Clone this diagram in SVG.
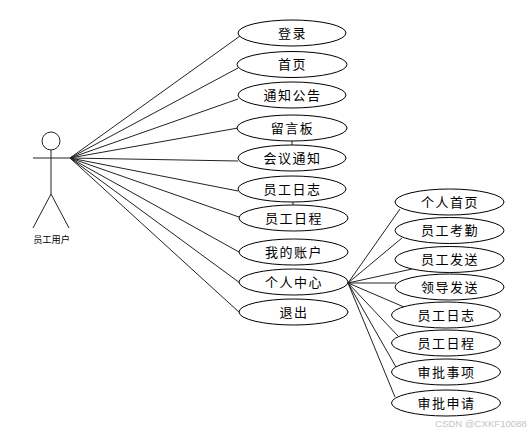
<svg xmlns="http://www.w3.org/2000/svg" width="527" height="435" viewBox="0 0 527 435">
<style>
.n ellipse{fill:#fff;stroke:#000;stroke-width:1}
.n text{font-family:"Noto Sans CJK SC","Liberation Sans",sans-serif;font-size:13px;letter-spacing:1.5px;text-anchor:middle;fill:#000}
#connectors line,#actor line{stroke:#222;stroke-width:1;fill:none}
#actor circle{fill:#fff;stroke:#222;stroke-width:1}
#actor text{font-family:"Noto Sans CJK SC","Liberation Sans",sans-serif;font-size:9.2px;text-anchor:middle;fill:#000}
.wm{font-family:"Liberation Sans",Arial,sans-serif;font-size:9.6px;fill:#c4c4c4}
</style>
<rect width="527" height="435" fill="#fff"/>
<g id="connectors">
<line x1="70" y1="158" x2="240" y2="36"/>
<line x1="70" y1="158" x2="238" y2="68"/>
<line x1="70" y1="158" x2="238" y2="99"/>
<line x1="70" y1="158" x2="238" y2="128"/>
<line x1="70" y1="158" x2="238" y2="161"/>
<line x1="70" y1="158" x2="238" y2="191"/>
<line x1="70" y1="158" x2="239" y2="217"/>
<line x1="70" y1="158" x2="239" y2="252"/>
<line x1="70" y1="158" x2="240" y2="283"/>
<line x1="70" y1="158" x2="240" y2="313"/>
<line x1="292" y1="141" x2="292" y2="145"/>
<line x1="293" y1="202" x2="293" y2="205"/>
<line x1="348" y1="283" x2="400" y2="209"/>
<line x1="348" y1="283" x2="402" y2="238"/>
<line x1="348" y1="283" x2="412" y2="269"/>
<line x1="348" y1="283" x2="396" y2="283"/>
<line x1="348" y1="283" x2="404" y2="307"/>
<line x1="348" y1="283" x2="398" y2="336"/>
<line x1="348" y1="283" x2="396" y2="367"/>
<line x1="348" y1="283" x2="395" y2="397"/>
</g>
<g id="actor">
<circle cx="51" cy="141" r="9"/>
<line x1="51" y1="150" x2="51" y2="194"/>
<line x1="33" y1="158" x2="70" y2="158"/>
<line x1="51" y1="194" x2="33" y2="228"/>
<line x1="51" y1="194" x2="69" y2="228"/>
<text x="51.500" y="243">员工用户</text>
</g>
<g id="n1" class="n"><ellipse cx="292" cy="33" rx="54" ry="13"/><text x="292.500" y="37.500">登录</text></g>
<g id="n2" class="n"><ellipse cx="292" cy="64.500" rx="55" ry="13"/><text x="292.500" y="69">首页</text></g>
<g id="n3" class="n"><ellipse cx="292" cy="95" rx="54" ry="13"/><text x="292.500" y="99.500">通知公告</text></g>
<g id="n4" class="n"><ellipse cx="292" cy="128" rx="55" ry="13"/><text x="292.500" y="132.500">留言板</text></g>
<g id="n5" class="n"><ellipse cx="292" cy="158" rx="54" ry="13"/><text x="292.500" y="162.500">会议通知</text></g>
<g id="n6" class="n"><ellipse cx="292" cy="189" rx="54" ry="13"/><text x="292.500" y="193.500">员工日志</text></g>
<g id="n7" class="n"><ellipse cx="293.500" cy="218" rx="54.500" ry="13"/><text x="294" y="222.500">员工日程</text></g>
<g id="n8" class="n"><ellipse cx="293.500" cy="252" rx="54.500" ry="13"/><text x="294" y="256.500">我的账户</text></g>
<g id="n9" class="n"><ellipse cx="293.500" cy="282" rx="54.500" ry="13"/><text x="294" y="286.500">个人中心</text></g>
<g id="n10" class="n"><ellipse cx="293.500" cy="312" rx="54.500" ry="13"/><text x="294" y="316.500">退出</text></g>
<g id="n11" class="n"><ellipse cx="449.500" cy="202" rx="54.500" ry="13"/><text x="450" y="206.500">个人首页</text></g>
<g id="n12" class="n"><ellipse cx="449.500" cy="230.500" rx="54.500" ry="13"/><text x="450" y="235">员工考勤</text></g>
<g id="n13" class="n"><ellipse cx="449.500" cy="259.500" rx="54.500" ry="13"/><text x="450" y="264">员工发送</text></g>
<g id="n14" class="n"><ellipse cx="449.500" cy="287" rx="54.500" ry="13"/><text x="450" y="291.500">领导发送</text></g>
<g id="n15" class="n"><ellipse cx="446" cy="315" rx="54.500" ry="13"/><text x="446.500" y="319.500">员工日志</text></g>
<g id="n16" class="n"><ellipse cx="446" cy="343" rx="54.500" ry="13"/><text x="446.500" y="347.500">员工日程</text></g>
<g id="n17" class="n"><ellipse cx="446" cy="372" rx="54.500" ry="13"/><text x="446.500" y="376.500">审批事项</text></g>
<g id="n18" class="n"><ellipse cx="446" cy="403" rx="54.500" ry="13"/><text x="446.500" y="407.500">审批申请</text></g>
<text class="wm" x="435" y="427">CSDN @CXKF10088</text>
</svg>
